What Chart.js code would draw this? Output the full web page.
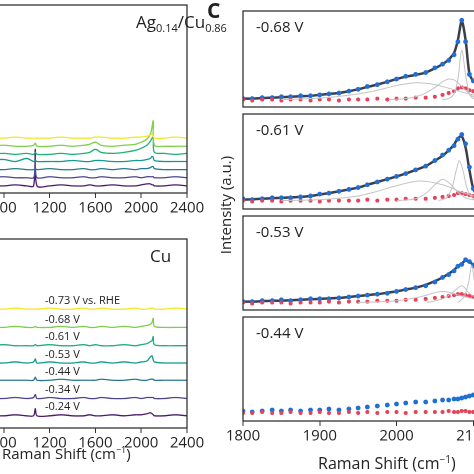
<!DOCTYPE html>
<html>
<head>
<meta charset="utf-8">
<script src="https://cdn.jsdelivr.net/npm/chart.js@4"></script>
<style>
  body { margin: 0; width: 474px; height: 474px; overflow: hidden; background: #fff; position: relative; font-family: "Open Sans", sans-serif; color: #222; }
  canvas { position: absolute; }
  .t { position: absolute; white-space: nowrap; }
  .v { font-size: 11px; }
</style>
</head>
<body>
<canvas id="lt"></canvas>
<canvas id="lb"></canvas>
<canvas id="r1"></canvas>
<canvas id="r2"></canvas>
<canvas id="r3"></canvas>
<canvas id="r4"></canvas>

<div class="t" style="left:136px;top:10px;font-size:17px">Ag<sub style="font-size:11px">0.14</sub>/Cu<sub style="font-size:11px">0.86</sub></div>
<div class="t" style="left:150px;top:244px;font-size:17px">Cu</div>
<div class="t v" style="left:45px;top:292px">-0.73 V vs. RHE</div>
<div class="t v" style="left:45px;top:311px">-0.68 V</div>
<div class="t v" style="left:45px;top:328px">-0.61 V</div>
<div class="t v" style="left:45px;top:346px">-0.53 V</div>
<div class="t v" style="left:45px;top:363px">-0.44 V</div>
<div class="t v" style="left:45px;top:381px">-0.34 V</div>
<div class="t v" style="left:45px;top:398px">-0.24 V</div>
<div class="t" style="left:2px;top:443px;font-size:15px">Raman Shift (cm<sup style="font-size:9px">−1</sup>)</div>
<div class="t" style="left:207px;top:-4px;font-size:21px;font-weight:bold">C</div>
<div class="t" style="left:155px;top:195px;font-size:15px;transform:rotate(-90deg);transform-origin:center;width:140px;text-align:center">Intensity (a.u.)</div>
<div class="t" style="left:256px;top:16px;font-size:15px">-0.68 V</div>
<div class="t" style="left:256px;top:119px;font-size:15px">-0.61 V</div>
<div class="t" style="left:256px;top:221px;font-size:15px">-0.53 V</div>
<div class="t" style="left:256px;top:322px;font-size:15px">-0.44 V</div>
<div class="t" style="left:318px;top:452px;font-size:16px">Raman Shift (cm<sup style="font-size:10px">−1</sup>)</div>

<script>
// ---- left panels (Ag/Cu top, Cu bottom) ----
const LX = [400,600,800,900,1000,1060,1075,1090,1200,1300,1400,1500,1550,1600,1650,1750,1850,1950,2000,2050,2080,2095,2105,2115,2200,2300,2400];
const colors = ['#f5e61e','#7ccf4a','#1fb07a','#14998a','#2a7890','#4b4590','#4a1a6a'];

const agcu = [
  [54,54,54,55,54,54,54,54,54,55,54,54,54,55,55,54,54,55,55,56,57,58,56,54,54,55,54],
  [46,46,47,46,46,47,49,46,46,47,46,47,48,50,47,46,47,48,50,53,58,65,71,47,46,46,46],
  [38,38,39,38,39,38,40,38,38,39,38,39,40,43,40,39,40,42,44,47,51,54,55,40,39,38,39],
  [31,32,33,31,34,31,32,31,31,31,32,31,31,32,32,31,31,32,32,33,34,36,35,32,31,31,31],
  [23,23,23,24,23,23,24,23,24,23,23,24,23,23,24,23,24,23,24,24,25,26,26,24,23,23,23],
  [15,15,16,15,15,15,24,15,16,15,15,16,15,15,16,15,15,16,15,16,16,16,16,15,15,16,15],
  [7,7,7,8,7,7,43,7,7,8,7,7,8,7,7,8,7,7,8,9,9,8,8,7,7,8,7]
];
const cu = [
  [117,117,117,118,117,117,117,117,118,117,117,118,117,117,118,117,117,118,117,117,118,118,118,117,117,118,117],
  [99,99,99,100,99,99,100,99,99,100,99,100,99,99,100,99,100,99,100,101,102,104,108,100,99,99,99],
  [81,81,82,81,81,81,82,81,82,81,81,82,81,82,81,81,82,81,82,83,85,86,90,82,81,81,81],
  [64,64,64,65,64,65,68,64,65,64,64,65,64,64,65,64,65,64,65,66,70,71,67,65,64,64,64],
  [47,47,47,47,47,47,50,47,47,48,47,47,47,47,48,47,47,48,47,47,48,48,48,47,47,47,47],
  [29,29,29,30,29,30,33,29,30,29,29,30,29,29,30,29,29,30,29,30,30,30,30,29,29,30,29],
  [12,12,12,13,12,12,19,12,12,13,12,12,13,12,12,13,12,13,13,14,15,14,13,12,12,13,12]
];
const leftTicks = [400,800,1200,1600,2000,2400];

// ---- right panels (C) ----
const RX = [1800,1812,1825,1838,1850,1862,1875,1888,1900,1912,1925,1938,1950,1962,1975,1988,2000,2012,2025,2038,2050,2060,2068,2075,2080,2085,2090,2095,2100,2105,2110];
const blue = [
  [9,9,10,10,11,11,12,12,13,14,15,17,19,22,24,27,30,33,35,37,42,46,50,56,70,93,70,35,28,26,25],
  [11,10,11,12,12,12,13,14,16,17,19,21,23,26,29,32,35,38,42,46,52,58,63,68,75,80,70,45,22,14,13],
  [9,9,10,10,11,10,11,12,12,12,13,14,15,16,17,18,20,22,24,26,30,35,38,42,47,49,54,52,48,40,35],
  [10,9,10,11,10,11,10,11,11,12,11,12,13,14,15,16,17,18,19,19,20,21,21,22,22,23,24,25,26,24,23]
];
const red = [
  [8,7,8,8,7,8,8,7,8,8,7,8,8,8,9,8,9,9,10,10,11,13,15,17,20,21,20,18,17,16,15],
  [9,8,9,9,8,9,9,9,8,9,9,9,9,10,9,10,10,11,11,11,12,13,14,15,17,17,16,15,14,13,12],
  [8,7,8,8,8,7,8,8,8,9,8,9,9,9,10,10,10,11,11,12,13,14,15,16,17,17,16,15,14,14,13],
  [8,8,9,8,8,9,8,8,9,8,8,9,8,9,8,9,9,8,9,9,9,9,10,9,9,10,10,9,9,9,9]
];
const fit = [
  [9,9,9.5,10,10.5,11,11.5,12,13,14,15,17,19,21.5,24,27,30,32.5,34.5,37,41.5,46,51,58,72,92,72,36,28,26,25],
  [10,10.5,11,11.5,12,12.5,13,14,15.5,17,19,21,23,26,29,32,35,38,42,46,52,57,63,69,76,78,66,42,22,15,13],
  [9,9,9.5,10,10,10.5,11,11.5,12,12.5,13,14,15,16,17,18.5,20,22,24,27,31,35,39,43,47,50,53,52,48,41,36],
  null
];
// fitted components: [x values, y values]
const comps = [
  [
    [[1850,1900,1950,1975,2000,2025,2050,2075,2100,2125],[8,9.5,14,18,23,26,24,18.5,13,10]],
    [[1990,2012,2025,2038,2050,2060,2068,2075,2080,2085,2090,2095,2100,2110],[8,9,11,15,21,27,30,29,26,22,18,14,11,8.5]],
    [[2060,2068,2075,2080,2085,2090,2095,2100,2110],[8,9,14,30,61,35,14,9,8]]
  ],
  [
    [[1850,1900,1950,1975,2000,2030,2060,2085,2110,2130],[9,10,14,19,25,30,26,18,12,10]],
    [[2000,2025,2040,2050,2060,2070,2080,2090,2100,2110],[9,11,18,26,32,27,18,12,10,9]],
    [[2055,2065,2072,2078,2082,2087,2092,2100,2110],[9,12,22,42,52,40,22,11,9]]
  ],
  [
    [[1950,2000,2030,2060,2085,2110],[8,10,14,20,15,10]],
    [[2040,2060,2072,2085,2095,2110],[8,12,18,26,18,10]],
    [[2080,2088,2094,2098,2102,2110],[8,14,30,48,30,10]]
  ],
  []
];
const rightTicks = [1800,1900,2000,2100,2200];

const frame = {
  id: 'frame',
  afterDraw(c) {
    const a = c.chartArea, g = c.ctx;
    g.save(); g.strokeStyle = '#333'; g.lineWidth = 1.3;
    g.strokeRect(a.left, a.top, a.right - a.left, a.bottom - a.top);
    g.restore();
  }
};

const PAD = 24;
function make(id, box, xmin, xmax, ymax, ticks, showTicks, datasets) {
  const cv = document.getElementById(id);
  const h = box.h + (showTicks ? 28 : 0) + 1;
  const w = box.w + 2 * PAD;
  cv.style.left = (box.left - PAD) + 'px'; cv.style.top = (box.top - 1) + 'px';
  cv.style.width = w + 'px'; cv.style.height = h + 'px';
  cv.width = w; cv.height = h;
  new Chart(cv, {
    type: 'scatter',
    data: { datasets },
    options: {
      responsive: false, animation: false, devicePixelRatio: 2,
      layout: { padding: { left: PAD, right: PAD, top: 1, bottom: 0 } },
      plugins: { legend: { display: false }, tooltip: { enabled: false } },
      scales: {
        x: {
          type: 'linear', min: xmin, max: xmax,
          afterBuildTicks: s => { s.ticks = ticks.map(v => ({ value: v })); },
          afterFit: s => { s.paddingLeft = 0; s.paddingRight = 0; if (!showTicks) s.height = 0; },
          grid: { display: showTicks, drawOnChartArea: false, tickLength: 5, color: '#333' },
          border: { display: false },
          ticks: { display: showTicks, color: '#222', font: { family: 'Open Sans', size: 15 }, padding: 1,
                   maxRotation: 0, autoSkip: false, callback: v => String(v) }
        },
        y: { min: 0, max: ymax, display: false }
      }
    },
    plugins: [frame]
  });
}

const line = (xs, ys, color, w) => ({
  type: 'line', data: xs.map((x, i) => ({ x, y: ys[i] })),
  borderColor: color, borderWidth: w, pointRadius: 0, tension: 0.3, fill: false
});
const dots = (xs, ys, color, r) => ({
  type: 'scatter', data: xs.map((x, i) => ({ x, y: ys[i] })),
  backgroundColor: color, borderWidth: 0, pointRadius: r
});

make('lt', { left: -42, top: 5, w: 229, h: 185 }, 400, 2400, 185, leftTicks, true,
  agcu.map((ys, i) => line(LX, ys, colors[i], 1.3)));
make('lb', { left: -42, top: 239, w: 229, h: 186 }, 400, 2400, 186, leftTicks, true,
  cu.map((ys, i) => line(LX, ys, colors[i], 1.3)));

const tops = [8, 111, 213, 314], heights = [103, 102, 101, 104];
['r1','r2','r3','r4'].forEach((id, p) => {
  const ds = [];
  comps[p].forEach(c => ds.push(line(c[0], c[1], '#c4c4c4', 1)));
  ds.push(dots(RX, red[p], '#e8415a', 2));
  ds.push(dots(RX, blue[p], '#1f6fd6', 2.4));
  if (fit[p]) ds.push(line(RX, fit[p], '#3a3f4a', 2.5));
  make(id, { left: 243, top: tops[p], w: 307, h: heights[p] }, 1800, 2200, heights[p], rightTicks, p === 3, ds);
});
</script>
</body>
</html>
